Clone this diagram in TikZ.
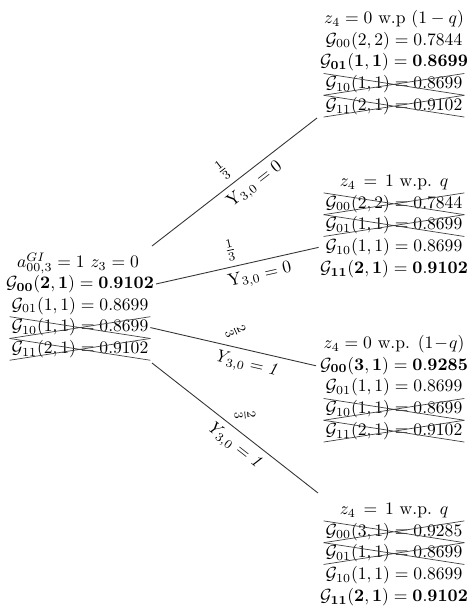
\documentclass[tikz,border=0pt]{standalone}
\usepackage{amsmath}
\usepackage{amssymb}
\usepackage{tikz}
\usetikzlibrary{shapes.misc,positioning,calc}

\begin{document}
\begin{tikzpicture}[
    x=0.02cm, y=-0.02cm,
    node distance=0pt,
    entry/.style={inner sep=1pt, text height=7.5pt, text depth=2.5pt},
    gone/.style={entry, cross out, draw=black!75, line width=0.4pt},
    branch/.style={draw=black!80, line width=0.5pt},
]
    \useasboundingbox (0,0) rectangle (474,609);

    % root: state at time 3
    \node[entry] (la) at (78,263) {$a^{GI}_{00,3} = 1\ z_3 = 0$};
    \node[entry] (lb) at (80,284) {$\mathcal{G}_{\mathbf{00}}(\mathbf{2,1}) = \mathbf{0.9102}$};
    \node[entry, below=of lb] (lc) {$\mathcal{G}_{01}(1,1) = 0.8699$};
    \node[gone, below=of lc] (ld) {$\mathcal{G}_{10}(1,1) = 0.8699$};
    \node[gone, below=of ld] (le) {$\mathcal{G}_{11}(2,1) = 0.9102$};

    % leaf 1
    \node[entry] (ra) at (394,19) {$z_4 = 0$ w.p $(1-q)$};
    \node[entry, below=of ra] (rb) {$\mathcal{G}_{00}(2,2) = 0.7844$};
    \node[entry, below=of rb] (rc) {$\mathcal{G}_{\mathbf{01}}(\mathbf{1,1}) = \mathbf{0.8699}$};
    \node[gone, below=of rc] (rd) {$\mathcal{G}_{10}(1,1) = 0.8699$};
    \node[gone, below=of rd] (re) {$\mathcal{G}_{11}(2,1) = 0.9102$};

    % leaf 2
    \node[entry] (sa) at (394,182) {$z_4 \,=\, 1$ w.p. $q$};
    \node[gone, below=of sa] (sb) {$\mathcal{G}_{00}(2,2) = 0.7844$};
    \node[gone, below=of sb] (sc) {$\mathcal{G}_{01}(1,1) = 0.8699$};
    \node[entry, below=of sc] (sd) {$\mathcal{G}_{10}(1,1) = 0.8699$};
    \node[entry, below=of sd] (se) {$\mathcal{G}_{\mathbf{11}}(\mathbf{2,1}) = \mathbf{0.9102}$};

    % leaf 3
    \node[entry] (ta) at (394,344) {$z_4 = 0$ w.p. $(1\!-\!q)$};
    \node[entry, below=of ta] (tb) {$\mathcal{G}_{\mathbf{00}}(\mathbf{3,1}) = \mathbf{0.9285}$};
    \node[entry, below=of tb] (tc) {$\mathcal{G}_{01}(1,1) = 0.8699$};
    \node[gone, below=of tc] (td) {$\mathcal{G}_{10}(1,1) = 0.8699$};
    \node[gone, below=of td] (te) {$\mathcal{G}_{11}(2,1) = 0.9102$};

    % leaf 4
    \node[entry] (ua) at (394,510) {$z_4 \,=\, 1$ w.p. $q$};
    \node[gone, below=of ua] (ub) {$\mathcal{G}_{00}(3,1) = 0.9285$};
    \node[gone, below=of ub] (uc) {$\mathcal{G}_{01}(1,1) = 0.8699$};
    \node[entry, below=of uc] (ud) {$\mathcal{G}_{10}(1,1) = 0.8699$};
    \node[entry, below=of ud] (ue) {$\mathcal{G}_{\mathbf{11}}(\mathbf{2,1}) = \mathbf{0.9102}$};

    \coordinate (s1) at (152,246);
    \coordinate (s4) at (152,363);
    \coordinate (t1) at (317,118);
    \coordinate (t4) at (318,493);

    \draw[branch] (s1) -- (t1)
        node[pos=.49, sloped, above] {$\frac{1}{3}$}
        node[pos=.57, sloped, below] {$\mathrm{Y}_{3,0} = 0$};
    \draw[branch] (lb.east) -- ($(sd.west)+(-5,0)$)
        node[pos=.48, sloped, above] {$\frac{1}{3}$}
        node[pos=.62, sloped, below] {$\mathrm{Y}_{3,0} = 0$};
    \draw[branch] (ld.east) -- ($(tb.west)+(-2,0)$)
        node[pos=.49, shift={(4,-15)}, rotate=-65] {$\frac{2}{3}$}
        node[pos=.6, sloped, below] {$\mathit{Y}_{3,0} = \mathit{1}$};
    \draw[branch] (s4) -- (t4)
        node[pos=.5, shift={(10,-13)}, rotate=-85] {$\frac{2}{3}$}
        node[pos=.55, sloped, below] {$\mathit{Y}_{3,0} = \mathit{1}$};
\end{tikzpicture}
\end{document}
